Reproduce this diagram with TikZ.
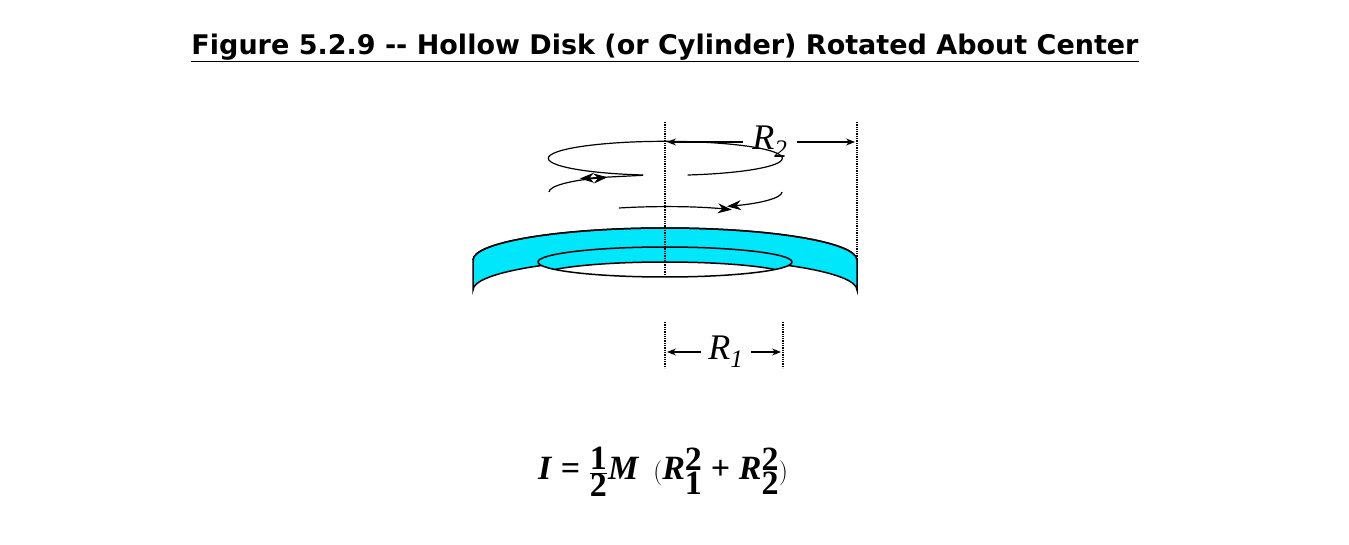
\documentclass[tikz,border=0pt]{standalone}
\usepackage{fontspec}
\setmainfont{Liberation Serif}
\newfontfamily\titlefont{DejaVu Sans}
\usetikzlibrary{arrows.meta}
\definecolor{disk}{RGB}{0,230,250}
\begin{document}
\begin{tikzpicture}[x=1pt,y=-1pt,
  ax/.style={densely dotted,line width=1.3pt},
  dim/.style={-{Stealth[length=9pt,width=7pt]},line width=1.2pt},
  rot/.style={line width=1.2pt},
  lab/.style={font=\fontsize{36}{40}\selectfont\itshape,inner sep=1pt}]
\useasboundingbox (0,0) rectangle (1349,545);
\node (title) at (665,48) {\titlefont\bfseries\fontsize{27}{32}\selectfont\underline{Figure 5.2.9 -- Hollow Disk (or Cylinder) Rotated About Center}};
% axis upper
\coordinate (axT) at (665,122);
\coordinate (axB) at (665,368);
\draw[ax] (axT) -- (665,230);
\draw[ax] (857,122) -- (857,262);
% rotation ellipse
\draw[rot] (643,175) arc[start angle=90+11,end angle=360+79,x radius=117,y radius=17];
\draw[rot,-{Stealth[length=14pt,width=10pt]}] (643,175.3) -- (580,178.5);
\draw[rot,-{Stealth[length=14pt,width=10pt]}] (782,192) arc[start angle=0,end angle=58,x radius=117,y radius=17];
\draw[rot,-{Stealth[length=14pt,width=10pt]}] (549,192) arc[start angle=180,end angle=240,x radius=117,y radius=17];
\draw[rot,-{Stealth[length=14pt,width=10pt]}] (619,208) arc[start angle=247,end angle=305,x radius=117,y radius=17];
% disk
\fill[disk,draw=black,line width=1.5pt] (473,260) -- (473,290) arc[start angle=180,end angle=360,x radius=192,y radius=32] -- (857,260) arc[start angle=0,end angle=-180,x radius=192,y radius=32] -- cycle;
\draw[line width=1.5pt] (473,260) arc[start angle=180,end angle=360,x radius=192,y radius=32];
\begin{scope}
\clip (665,262) ellipse[x radius=127,y radius=15];
\fill[disk] (400,200) rectangle (930,280);
\fill[white] (665,277) ellipse[x radius=127,y radius=15];
\draw[line width=1.5pt] (665,277) ellipse[x radius=127,y radius=15];
\end{scope}
\draw[line width=1.5pt] (665,262) ellipse[x radius=127,y radius=15];
\draw[ax] (665,230) -- (665,276);
\draw[ax] (665,322) -- (axB);
\draw[ax] (783,322) -- (783,368);
% R2
\node[lab] (r2) at (770,142) {R\textsubscript{2}};
\draw[dim] (r2.west) ++(-8,0) -- (667,142);
\draw[dim] (r2.east) ++(8,0) -- (855,142);
% R1
\node[lab] (r1) at (726,352) {R\textsubscript{1}};
\draw[dim] (r1.west) ++(-6,0) -- (667,352);
\draw[dim] (r1.east) ++(6,0) -- (781,352);
% formula
\node (f) at (663,472) {\fontsize{34}{40}\selectfont\bfseries
  \textit{I} = $\frac{\mbox{\fontsize{34}{40}\selectfont\bfseries 1}}{\mbox{\fontsize{34}{40}\selectfont\bfseries 2}}$\textit{M}\, $\Bigl($\textit{R}$^{\mbox{\bfseries 2}}_{\mbox{\bfseries 1}}$ + \textit{R}$^{\mbox{\bfseries 2}}_{\mbox{\bfseries 2}}$$\Bigr)$};
\end{tikzpicture}
\end{document}
